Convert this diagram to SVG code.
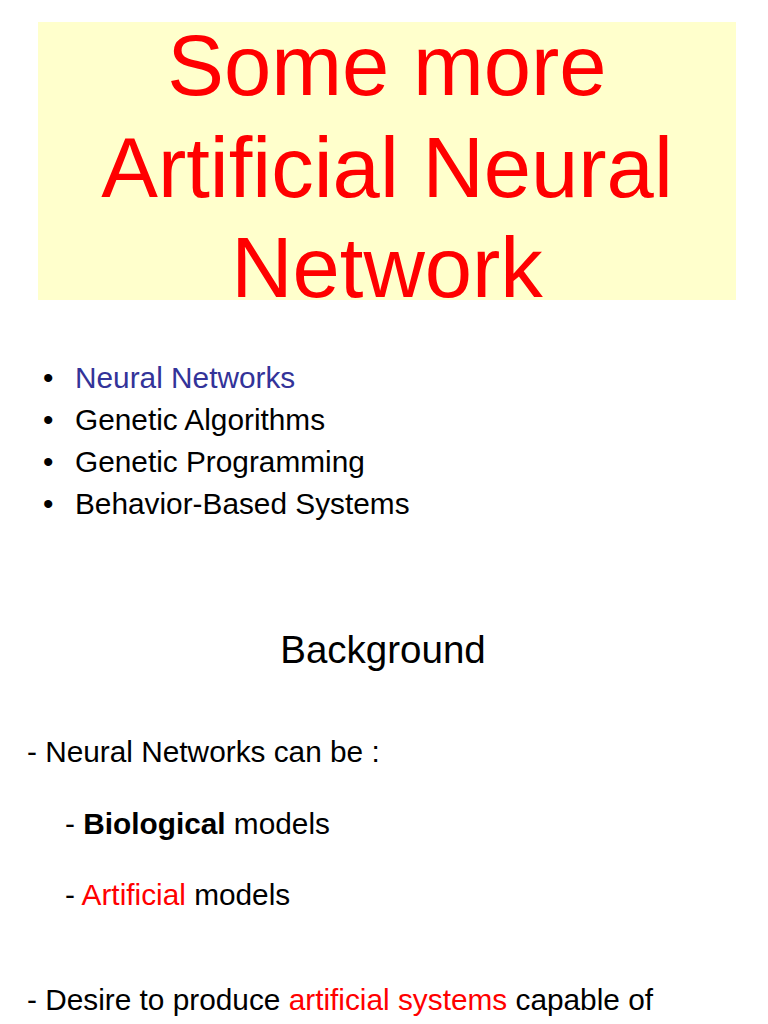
<svg xmlns="http://www.w3.org/2000/svg" width="768" height="1024" viewBox="0 0 768 1024">
<style>
text{font-family:"Liberation Sans",Arial,sans-serif}
.t{font-size:85px;fill:#FF0000;text-anchor:middle}
.b{font-size:29.8px;fill:#000}
.r{fill:#FF0000}
</style>
<rect width="768" height="1024" fill="#fff"/>
<rect x="38" y="22" width="698" height="278" fill="#FFFFCC"/>
<text class="t" x="387" y="95">Some more</text>
<text class="t" x="387" y="197">Artificial Neural</text>
<text class="t" x="387" y="297">Network</text>
<g class="b">
<text x="43" y="388">•</text><text x="75" y="388" fill="#333399">Neural Networks</text>
<text x="43" y="430">•</text><text x="75" y="430">Genetic Algorithms</text>
<text x="43" y="472">•</text><text x="75" y="472">Genetic Programming</text>
<text x="43" y="514">•</text><text x="75" y="514">Behavior-Based Systems</text>
</g>
<text x="383" y="663" text-anchor="middle" style="font-size:38.5px">Background</text>
<text class="b" x="27" y="762">- Neural Networks can be :</text>
<text class="b" x="65" y="834">- <tspan font-weight="bold">Biological</tspan> models</text>
<text class="b" x="65" y="905">- <tspan class="r">Artificial</tspan> models</text>
<text class="b" x="27" y="1010">- Desire to produce <tspan class="r">artificial systems</tspan> capable of</text>
</svg>
